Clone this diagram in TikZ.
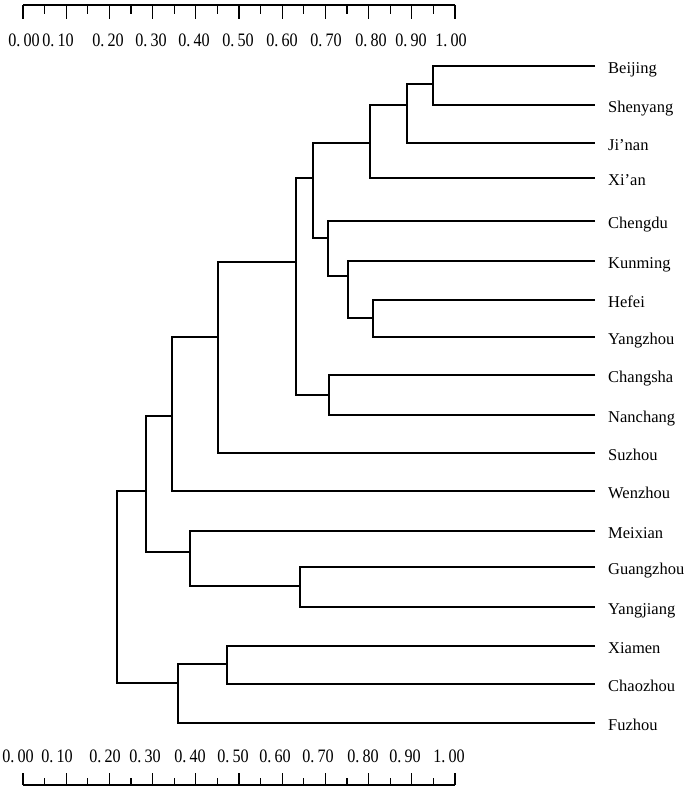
\documentclass[tikz,border=0pt]{standalone}
\usepackage{fontspec}
\setmainfont{Liberation Serif}
\newfontfamily\numfont[FakeStretch=0.85]{Liberation Serif}

\begin{document}
\begin{tikzpicture}[x=1pt,y=-1pt,
	link/.style={line width=1.8pt},
	axisline/.style={line width=1.1pt},
	leaf/.style={anchor=west,inner xsep=13pt,inner ysep=0pt,text height=15pt,text depth=0pt,font=\fontsize{16.5}{18}\selectfont},
	axislab/.style={anchor=base,inner sep=0pt,font=\numfont\fontsize{19}{21}\selectfont}]
			\useasboundingbox (0,0) rectangle (685,791);

			\draw[axisline] (23,5) -- (455,5);
			\draw[axisline] (23,785) -- (455,785);
			\foreach \i in {0,...,10}{
				\draw[axisline] (23+43.2*\i,5) -- ++(0,14);
				\draw[axisline] (23+43.2*\i,785) -- ++(0,-12);
			}
			\foreach \i in {0,...,9}{
				\draw[axisline] (44.6+43.2*\i,5) -- ++(0,9);
				\draw[axisline] (44.6+43.2*\i,785) -- ++(0,-7);
			}
			\foreach \x\t [count=\k] in {24/0.\,00,58/0.\,10,108/0.\,20,151/0.\,30,194/0.\,40,238/0.\,50,282/0.\,60,326/0.\,70,371/0.\,80,411/0.\,90,451/1.\,00}{
				\node[axislab] (top\k) at (\x,46.5) {\t};
			}
			\foreach \x\t [count=\k] in {18/0.\,00,57/0.\,10,105/0.\,20,145/0.\,30,190/0.\,40,233/0.\,50,275/0.\,60,318/0.\,70,363/0.\,80,405/0.\,90,449/1.\,00}{
				\node[axislab] (bot\k) at (\x,762) {\t};
			}

			\foreach \n\y\t in {bei/66/Beijing,she/105/Shenyang,jin/143/Ji’nan,xian/178/Xi’an,che/221/Chengdu,kun/261/Kunming,hef/300/Hefei,yzh/337/Yangzhou,csh/375/Changsha,nch/415/Nanchang,suz/453/Suzhou,wen/491/Wenzhou,mei/531/Meixian,gzh/567/Guangzhou,yji/607/Yangjiang,xiam/646/Xiamen,czh/684/Chaozhou,fuz/723/Fuzhou}{
				\node[leaf] (\n) at (595,\y) {\t};
			}

			\coordinate (m1) at (433,84);
			\coordinate (m2) at (407,105);
			\coordinate (m3) at (370,143);
			\coordinate (m4) at (373,318);
			\coordinate (m5) at (348,276);
			\coordinate (m6) at (328,238);
			\coordinate (m7) at (313,178);
			\coordinate (m8) at (329,395);
			\coordinate (m9) at (296,262);
			\coordinate (m10) at (218,337);
			\coordinate (m11) at (172,416);
			\coordinate (m12) at (300,586);
			\coordinate (m13) at (190,552);
			\coordinate (m14) at (146,491);
			\coordinate (m15) at (227,664);
			\coordinate (m16) at (178,683);
			\coordinate (m17) at (117,600);

			\draw[link] (bei) -| (m1) |- (she);
			\draw[link] (m1) -| (m2) |- (jin);
			\draw[link] (m2) -| (m3) |- (xian);
			\draw[link] (hef) -| (m4) |- (yzh);
			\draw[link] (kun) -| (m5) |- (m4);
			\draw[link] (che) -| (m6) |- (m5);
			\draw[link] (m3) -| (m7) |- (m6);
			\draw[link] (csh) -| (m8) |- (nch);
			\draw[link] (m7) -| (m9) |- (m8);
			\draw[link] (m9) -| (m10) |- (suz);
			\draw[link] (m10) -| (m11) |- (wen);
			\draw[link] (gzh) -| (m12) |- (yji);
			\draw[link] (mei) -| (m13) |- (m12);
			\draw[link] (m11) -| (m14) |- (m13);
			\draw[link] (xiam) -| (m15) |- (czh);
			\draw[link] (m15) -| (m16) |- (fuz);
			\draw[link] (m14) -| (m17) |- (m16);

		\end{tikzpicture}
\end{document}
